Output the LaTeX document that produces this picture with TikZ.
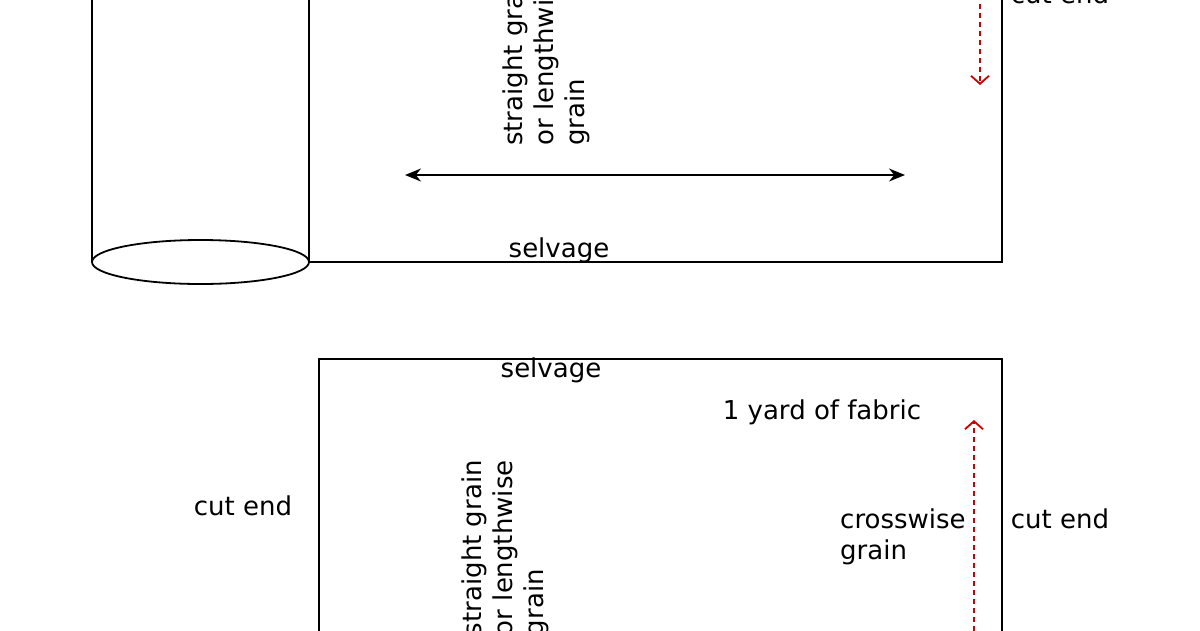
\documentclass[tikz,border=0pt]{standalone}
\usepackage{fontspec}
\setmainfont{DejaVu Sans}
\usetikzlibrary{arrows.meta}
\begin{document}
\begin{tikzpicture}[x=1pt,y=-1pt,
  lbl/.style={font=\fontsize{26}{31}\selectfont,inner sep=0pt},
  rot/.style={font=\fontsize{26}{31}\selectfont,rotate=90,align=left,inner sep=0pt},
  redarr/.style={draw=red!80!black,dash pattern=on 5pt off 4pt,line width=1.8pt,-{Straight Barb[length=8pt,width=18pt]}},
  line/.style={draw,line width=1.8pt}]
\useasboundingbox (0,0) rectangle (1200,630);
\clip (0,0) rectangle (1200,630);
% top
\coordinate (c1) at (92,-5); \coordinate (c2) at (92,262);
\coordinate (c3) at (309,-5); \coordinate (c4) at (309,262);
\draw[line] (c1) -- (c2); \draw[line] (c3) -- (c4);
\draw[line,fill=white] (200.5,262) ellipse [x radius=108.5, y radius=22];
\coordinate (r1) at (1002,-5); \coordinate (r2) at (1002,262);
\draw[line] (c4) -- (r2) -- (r1);
\node[lbl] (ce1) at (1060,-6) {cut end};
\coordinate (ra1) at (980,-5); \coordinate (ra2) at (980,85);
\draw[redarr] (ra1) -- (ra2);
\coordinate (ba1) at (405,175); \coordinate (ba2) at (905,175);
\draw[line,{Stealth[length=16pt,width=13pt]}-{Stealth[length=16pt,width=13pt]}] (ba1) -- (ba2);
\node[rot,anchor=south west] (sg1) at (590,146) {straight grain\\or lengthwise\\grain};
\node[lbl] (sv1) at (559,250) {selvage};
% bottom
\coordinate (b1) at (319,640); \coordinate (b2) at (319,359);
\coordinate (b3) at (1002,359); \coordinate (b4) at (1002,640);
\draw[line] (b1) -- (b2) -- (b3) -- (b4);
\node[lbl] (sv2) at (551,370) {selvage};
\node[lbl] (yd) at (822,412) {1 yard of fabric};
\node[lbl] (ce2) at (243,506) {cut end};
\node[lbl] (ce3) at (1060,519) {cut end};
\node[lbl,align=left,anchor=west] (cw) at (840,537) {crosswise\\grain};
\coordinate (rb1) at (974,640); \coordinate (rb2) at (974,420);
\draw[redarr] (rb1) -- (rb2);
\node[rot,anchor=north east] (sg2) at (462,460) {straight grain\\or lengthwise\\grain};
\end{tikzpicture}
\end{document}
